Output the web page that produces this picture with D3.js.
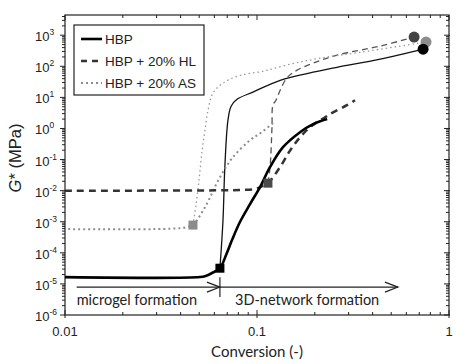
<!DOCTYPE html>
<html><head><meta charset="utf-8">
<script src="https://cdn.jsdelivr.net/npm/d3@7"></script>
<style>body{margin:0;background:#fff}svg{display:block}</style>
</head><body>
<svg id="chart" width="474" height="364"></svg>
<script>
// ---- data ----
const hbpConv = [0.01, 0.0505, 0.054, 0.058, 0.0641, 0.069, 0.0741, 0.0815, 0.092, 0.1037, 0.117, 0.1366, 0.1675, 0.196, 0.232];
const hbpG    = [1.65e-5, 1.66e-5, 1.8e-5, 2.2e-5, 3.2e-5, 8.5e-5, 2.57e-4, 9.8e-4, 3.7e-3, 1.3e-2, 5.8e-2, 0.25, 0.76, 1.38, 2.0];
const hbpThinConv = [0.0641, 0.0665, 0.068, 0.0706, 0.0733, 0.0787, 0.0953, 0.132, 0.196, 0.261, 0.438, 0.733];
const hbpThinG    = [3.2e-5, 1.1e-3, 0.058, 1.86, 5.2, 8.7, 14.8, 35.5, 64.6, 93, 170, 355];

const hlConv = [0.01, 0.0815, 0.0977, 0.106, 0.114, 0.132, 0.149, 0.1675, 0.189, 0.221, 0.249, 0.294, 0.324];
const hlG    = [0.01, 0.0105, 0.0112, 0.0138, 0.0174, 0.058, 0.2, 0.52, 1.1, 2.1, 3.3, 5.6, 8.1];
const hlThinConv = [0.114, 0.117, 0.1197, 0.121, 0.1256, 0.132, 0.143, 0.161, 0.196, 0.261, 0.438, 0.658];
const hlThinG    = [0.0174, 0.058, 1.1, 5.6, 8.1, 17, 42, 74, 126, 229, 447, 870];

const asConv = [0.0104, 0.0397, 0.0448, 0.0464, 0.0536, 0.0641, 0.075, 0.092, 0.106, 0.124];
const asG    = [5.8e-4, 6.2e-4, 7.2e-4, 7.8e-4, 2.95e-3, 0.027, 0.12, 0.42, 0.76, 1.7];
const asThinConv = [0.0464, 0.0481, 0.0499, 0.0518, 0.0536, 0.0556, 0.059, 0.0665, 0.0815, 0.107, 0.149, 0.213, 0.344, 0.759];
const asThinG    = [7.8e-4, 3.4e-3, 0.022, 0.2, 0.89, 3.9, 13.8, 28.8, 51, 69, 117, 182, 282, 600];

const gelConv = [0.0641, 0.114, 0.0464];      // squares
const gelG    = [3.2e-5, 0.0174, 7.8e-4];
const endConv = [0.733, 0.658, 0.759];        // circles
const endG    = [355, 870, 600];

const seriesNames = ["HBP", "HBP + 20% HL", "HBP + 20% AS"];
const xTickLabels = ["0.01", "0.1", "1"];
const yExponents = [-6, -5, -4, -3, -2, -1, 0, 1, 2, 3];
const annotations = ["microgel formation", "3D-network formation"];
const annotConv = [0.0115, 0.0641, 0.542]; // arrow start, divider, arrow end
const annotG = [7.9e-6, 1.65e-5, 3.8e-6];

// ---- layout ----
const svg = d3.select("#chart");
const L = 65, R = 449, T = 15, B = 315;
const x = d3.scaleLog().domain([0.01, 1]).range([L, R]);
const y = d3.scaleLog().domain([1e-6, Math.pow(10, 3.65)]).range([B, T]);

const arial = "'Liberation Sans', Arial, sans-serif";
const calib = "Lato, 'Open Sans', sans-serif";

// clip
svg.append("defs").append("clipPath").attr("id","clip")
  .append("rect").attr("x",L).attr("y",T).attr("width",R-L).attr("height",B-T);

// ticks
const xMinor = [], xMajor = [0.01, 0.1, 1];
for (let d = 0.01; d < 1; d *= 10) for (let k = 2; k <= 9; k++) xMinor.push(d*k);
const yMajor = yExponents.map(e => Math.pow(10, e));
const yMinor = [];
for (let e = -6; e <= 3; e++) for (let k = 2; k <= 9; k++) { const v = k*Math.pow(10,e); if (v <= y.domain()[1]) yMinor.push(v); }

const axG = svg.append("g").attr("stroke","#222").attr("stroke-width",1);
xMajor.forEach(v => {
  axG.append("line").attr("x1",x(v)).attr("x2",x(v)).attr("y1",B+3).attr("y2",B-5);
  axG.append("line").attr("x1",x(v)).attr("x2",x(v)).attr("y1",T).attr("y2",T+5);
});
xMinor.forEach(v => {
  axG.append("line").attr("x1",x(v)).attr("x2",x(v)).attr("y1",B).attr("y2",B-3);
  axG.append("line").attr("x1",x(v)).attr("x2",x(v)).attr("y1",T).attr("y2",T+3);
});
yMajor.forEach(v => {
  axG.append("line").attr("x1",L-5).attr("x2",L).attr("y1",y(v)).attr("y2",y(v));
  axG.append("line").attr("x1",R-5).attr("x2",R+1).attr("y1",y(v)).attr("y2",y(v));
});
yMinor.forEach(v => {
  axG.append("line").attr("x1",L-3).attr("x2",L).attr("y1",y(v)).attr("y2",y(v));
  axG.append("line").attr("x1",R-3).attr("x2",R).attr("y1",y(v)).attr("y2",y(v));
});
svg.append("rect").attr("x",L).attr("y",T).attr("width",R-L).attr("height",B-T)
  .attr("fill","none").attr("stroke","#222").attr("stroke-width",1.2);

// tick labels
xMajor.forEach((v,i) => {
  svg.append("text").attr("x",x(v)).attr("y",336).attr("text-anchor","middle")
    .attr("font-family",arial).attr("font-size",13).attr("fill","#222").text(xTickLabels[i]);
});
yExponents.forEach(e => {
  const t = svg.append("text").attr("x",35).attr("y",y(Math.pow(10,e))+6)
    .attr("font-family",arial).attr("font-size",13).attr("fill","#222");
  t.append("tspan").text("10");
  t.append("tspan").attr("dy",-6).attr("font-size",8.5).text(String(e));
});

// axis titles
svg.append("text").attr("x",(L+R)/2).attr("y",357).attr("text-anchor","middle")
  .attr("font-family",calib).attr("font-size",15).attr("fill","#222").text("Conversion (-)");
const yt = svg.append("text").attr("transform","translate(21,158) rotate(-90)").attr("text-anchor","middle")
  .attr("font-family",arial).attr("font-size",16.5).attr("fill","#222");
yt.append("tspan").attr("font-style","italic").text("G");
yt.append("tspan").text("* (MPa)");

// lines
const line = d3.line().x(d => x(d[0])).y(d => y(d[1])).curve(d3.curveCatmullRom.alpha(0.5));
const zip = (a,b) => a.map((v,i) => [v,b[i]]);
const plot = svg.append("g").attr("clip-path","url(#clip)").attr("fill","none");

plot.append("path").datum(zip(hbpThinConv,hbpThinG)).attr("d",line).attr("stroke","#111").attr("stroke-width",1.3);
plot.append("path").datum(zip(hlThinConv,hlThinG)).attr("d",line).attr("stroke","#555").attr("stroke-width",1.3).attr("stroke-dasharray","6,4");
plot.append("path").datum(zip(asThinConv,asThinG)).attr("d",line).attr("stroke","#999").attr("stroke-width",1.3).attr("stroke-dasharray","1.5,3");

plot.append("path").datum(zip(asConv,asG)).attr("d",line).attr("stroke","#8c8c8c").attr("stroke-width",2).attr("stroke-dasharray","2,3");
plot.append("path").datum(zip(hlConv,hlG)).attr("d",line).attr("stroke","#333").attr("stroke-width",2.5).attr("stroke-dasharray","7,5");
plot.append("path").datum(zip(hbpConv,hbpG)).attr("d",line).attr("stroke","#000").attr("stroke-width",2.6);

// markers
const markerFill = ["#000", "#4a4a4a", "#8c8c8c"];
gelConv.forEach((c,i) => {
  svg.append("rect").attr("x",x(c)-4.5).attr("y",y(gelG[i])-4.5).attr("width",9).attr("height",9).attr("fill",markerFill[i]);
});
const circFill = ["#000", "#444", "#8c8c8c"];
[2,1,0].forEach(i => {
  svg.append("circle").attr("cx",x(endConv[i])).attr("cy",y(endG[i])).attr("r",5.5).attr("fill",circFill[i]);
});

// annotations
const an = svg.append("g").attr("stroke","#222").attr("stroke-width",1.2).attr("fill","none");
const ay = y(annotG[0]);
an.append("line").attr("x1",x(annotConv[0])).attr("x2",x(annotConv[1])).attr("y1",ay).attr("y2",ay);
an.append("path").attr("d",`M${x(annotConv[1])-13},${ay-5}L${x(annotConv[1])},${ay}L${x(annotConv[1])-13},${ay+5}`);
an.append("line").attr("x1",x(annotConv[1])).attr("x2",x(annotConv[2])).attr("y1",ay).attr("y2",ay);
an.append("path").attr("d",`M${x(annotConv[2])-13},${ay-5}L${x(annotConv[2])},${ay}L${x(annotConv[2])-13},${ay+5}`);
an.append("line").attr("x1",x(annotConv[1])).attr("x2",x(annotConv[1])).attr("y1",y(annotG[1])).attr("y2",y(annotG[2]));
svg.append("text").attr("x",x(annotConv[0])).attr("y",305).attr("font-family",calib).attr("font-size",14.5).attr("fill","#222").text(annotations[0]);
svg.append("text").attr("x",235).attr("y",305).attr("font-family",calib).attr("font-size",14.5).attr("fill","#222").text(annotations[1]);

// legend
const lg = svg.append("g");
lg.append("rect").attr("x",74).attr("y",25).attr("width",130).attr("height",70).attr("fill","#fff").attr("stroke","#222").attr("stroke-width",1.2);
const rowsY = [39, 61, 83];
const lstyle = [{c:"#000",w:2.6,d:null},{c:"#333",w:2.5,d:"6,5"},{c:"#8c8c8c",w:2,d:"2,3"}];
seriesNames.forEach((n,i) => {
  const l = lg.append("line").attr("x1",81).attr("x2",102).attr("y1",rowsY[i]).attr("y2",rowsY[i])
    .attr("stroke",lstyle[i].c).attr("stroke-width",lstyle[i].w);
  if (lstyle[i].d) l.attr("stroke-dasharray",lstyle[i].d);
  lg.append("text").attr("x",105).attr("y",rowsY[i]+5).attr("font-family",arial).attr("font-size",13.5).attr("fill","#222").text(n);
});
</script>
</body></html>
